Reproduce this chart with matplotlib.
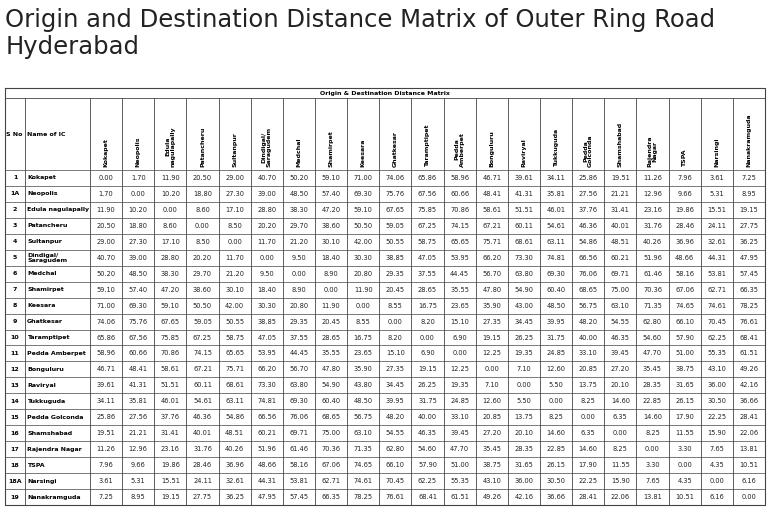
import matplotlib.pyplot as plt

s_no = ["1", "1A", "2", "3", "4", "5", "6", "7", "8", "9", "10", "11", "12", "13",
        "14", "15", "16", "17", "18", "18A", "19"]
names = ["Kokapet", "Neopolis", "Edula nagulapally", "Patancheru", "Sultanpur",
         "Dindigal/\nSaragudem", "Medchal", "Shamirpet", "Keesara", "Ghatkesar",
         "Taramptipet", "Pedda Amberpet", "Bonguluru", "Raviryal", "Tukkuguda",
         "Pedda Golconda", "Shamshabad", "Rajendra Nagar", "TSPA", "Narsingi",
         "Nanakramguda"]
col_heads = ["Kokapet", "Neopolis", "Edula\nnagulapally", "Patancheru", "Sultanpur",
             "Dindigal/\nSaragudem", "Medchal", "Shamirpet", "Keesara", "Ghatkesar",
             "Taramptipet", "Pedda\nAmberpet", "Bonguluru", "Raviryal", "Tukkuguda",
             "Pedda\nGolconda", "Shamshabad", "Rajendra\nNagar", "TSPA", "Narsingi",
             "Nanakramguda"]

dist = [
    [0.00, 1.70, 11.90, 20.50, 29.00, 40.70, 50.20, 59.10, 71.00, 74.06, 65.86, 58.96, 46.71, 39.61, 34.11, 25.86, 19.51, 11.26, 7.96, 3.61, 7.25],
    [1.70, 0.00, 10.20, 18.80, 27.30, 39.00, 48.50, 57.40, 69.30, 75.76, 67.56, 60.66, 48.41, 41.31, 35.81, 27.56, 21.21, 12.96, 9.66, 5.31, 8.95],
    [11.90, 10.20, 0.00, 8.60, 17.10, 28.80, 38.30, 47.20, 59.10, 67.65, 75.85, 70.86, 58.61, 51.51, 46.01, 37.76, 31.41, 23.16, 19.86, 15.51, 19.15],
    [20.50, 18.80, 8.60, 0.00, 8.50, 20.20, 29.70, 38.60, 50.50, 59.05, 67.25, 74.15, 67.21, 60.11, 54.61, 46.36, 40.01, 31.76, 28.46, 24.11, 27.75],
    [29.00, 27.30, 17.10, 8.50, 0.00, 11.70, 21.20, 30.10, 42.00, 50.55, 58.75, 65.65, 75.71, 68.61, 63.11, 54.86, 48.51, 40.26, 36.96, 32.61, 36.25],
    [40.70, 39.00, 28.80, 20.20, 11.70, 0.00, 9.50, 18.40, 30.30, 38.85, 47.05, 53.95, 66.20, 73.30, 74.81, 66.56, 60.21, 51.96, 48.66, 44.31, 47.95],
    [50.20, 48.50, 38.30, 29.70, 21.20, 9.50, 0.00, 8.90, 20.80, 29.35, 37.55, 44.45, 56.70, 63.80, 69.30, 76.06, 69.71, 61.46, 58.16, 53.81, 57.45],
    [59.10, 57.40, 47.20, 38.60, 30.10, 18.40, 8.90, 0.00, 11.90, 20.45, 28.65, 35.55, 47.80, 54.90, 60.40, 68.65, 75.00, 70.36, 67.06, 62.71, 66.35],
    [71.00, 69.30, 59.10, 50.50, 42.00, 30.30, 20.80, 11.90, 0.00, 8.55, 16.75, 23.65, 35.90, 43.00, 48.50, 56.75, 63.10, 71.35, 74.65, 74.61, 78.25],
    [74.06, 75.76, 67.65, 59.05, 50.55, 38.85, 29.35, 20.45, 8.55, 0.00, 8.20, 15.10, 27.35, 34.45, 39.95, 48.20, 54.55, 62.80, 66.10, 70.45, 76.61],
    [65.86, 67.56, 75.85, 67.25, 58.75, 47.05, 37.55, 28.65, 16.75, 8.20, 0.00, 6.90, 19.15, 26.25, 31.75, 40.00, 46.35, 54.60, 57.90, 62.25, 68.41],
    [58.96, 60.66, 70.86, 74.15, 65.65, 53.95, 44.45, 35.55, 23.65, 15.10, 6.90, 0.00, 12.25, 19.35, 24.85, 33.10, 39.45, 47.70, 51.00, 55.35, 61.51],
    [46.71, 48.41, 58.61, 67.21, 75.71, 66.20, 56.70, 47.80, 35.90, 27.35, 19.15, 12.25, 0.00, 7.10, 12.60, 20.85, 27.20, 35.45, 38.75, 43.10, 49.26],
    [39.61, 41.31, 51.51, 60.11, 68.61, 73.30, 63.80, 54.90, 43.80, 34.45, 26.25, 19.35, 7.10, 0.00, 5.50, 13.75, 20.10, 28.35, 31.65, 36.00, 42.16],
    [34.11, 35.81, 46.01, 54.61, 63.11, 74.81, 69.30, 60.40, 48.50, 39.95, 31.75, 24.85, 12.60, 5.50, 0.00, 8.25, 14.60, 22.85, 26.15, 30.50, 36.66],
    [25.86, 27.56, 37.76, 46.36, 54.86, 66.56, 76.06, 68.65, 56.75, 48.20, 40.00, 33.10, 20.85, 13.75, 8.25, 0.00, 6.35, 14.60, 17.90, 22.25, 28.41],
    [19.51, 21.21, 31.41, 40.01, 48.51, 60.21, 69.71, 75.00, 63.10, 54.55, 46.35, 39.45, 27.20, 20.10, 14.60, 6.35, 0.00, 8.25, 11.55, 15.90, 22.06],
    [11.26, 12.96, 23.16, 31.76, 40.26, 51.96, 61.46, 70.36, 71.35, 62.80, 54.60, 47.70, 35.45, 28.35, 22.85, 14.60, 8.25, 0.00, 3.30, 7.65, 13.81],
    [7.96, 9.66, 19.86, 28.46, 36.96, 48.66, 58.16, 67.06, 74.65, 66.10, 57.90, 51.00, 38.75, 31.65, 26.15, 17.90, 11.55, 3.30, 0.00, 4.35, 10.51],
    [3.61, 5.31, 15.51, 24.11, 32.61, 44.31, 53.81, 62.71, 74.61, 70.45, 62.25, 55.35, 43.10, 36.00, 30.50, 22.25, 15.90, 7.65, 4.35, 0.00, 6.16],
    [7.25, 8.95, 19.15, 27.75, 36.25, 47.95, 57.45, 66.35, 78.25, 76.61, 68.41, 61.51, 49.26, 42.16, 36.66, 28.41, 22.06, 13.81, 10.51, 6.16, 0.00],
]

fig = plt.figure(figsize=(7.68, 5.13), dpi=100)
ax = fig.add_axes([0, 0, 1, 1])
ax.set_xlim(0, 768)
ax.set_ylim(513, 0)
ax.axis("off")

fig.text(0.007, 0.985, "Origin and Destination Distance Matrix of Outer Ring Road\nHyderabad",
         fontsize=17.5, va="top", ha="left", color="#222222", linespacing=1.15)

# table geometry (pixels)
left, right = 5, 765
top, sub, head_bot, bottom = 88, 98, 170, 505
x_name, x_data = 25, 90
ncol = len(col_heads)
cw = (right - x_data) / ncol
nrow = len(names)
rh = (bottom - head_bot) / nrow
lc = "#444444"

ax.plot([left, right, right, left, left], [top, top, bottom, bottom, top], color=lc, lw=0.8)
ax.plot([left, right], [sub, sub], color=lc, lw=0.6)
ax.text((left + right) / 2, (top + sub) / 2, "Origin & Destination Distance Matrix",
        fontsize=4.5, fontweight="bold", ha="center", va="center")
for x in [x_name, x_data] + [x_data + i * cw for i in range(1, ncol)]:
    ax.plot([x, x], [sub, bottom], color=lc, lw=0.6)
for j in range(nrow + 1):
    y = head_bot + j * rh
    ax.plot([left, right], [y, y], color=lc, lw=0.5)

ax.text(left + 1, 135, "S No", fontsize=4.5, fontweight="bold", va="center")
ax.text(x_name + 2, 135, "Name of IC", fontsize=4.5, fontweight="bold", va="center")
for i, h in enumerate(col_heads):
    ax.text(x_data + (i + 0.5) * cw, head_bot - 3, h, rotation=90, fontsize=4.5,
            fontweight="bold", ha="center", va="bottom", linespacing=1.0)

for j in range(nrow):
    yc = head_bot + (j + 0.5) * rh
    ax.text((left + x_name) / 2, yc, s_no[j], fontsize=4.5, fontweight="bold", ha="center", va="center")
    ax.text(x_name + 2, yc, names[j], fontsize=4.5, fontweight="bold", ha="left", va="center",
            linespacing=0.95)
    for i in range(ncol):
        ax.text(x_data + (i + 0.5) * cw, yc, f"{dist[j][i]:.2f}", fontsize=4.8,
                ha="center", va="center", color="#222222")

fig.savefig("out.png", dpi=100)
